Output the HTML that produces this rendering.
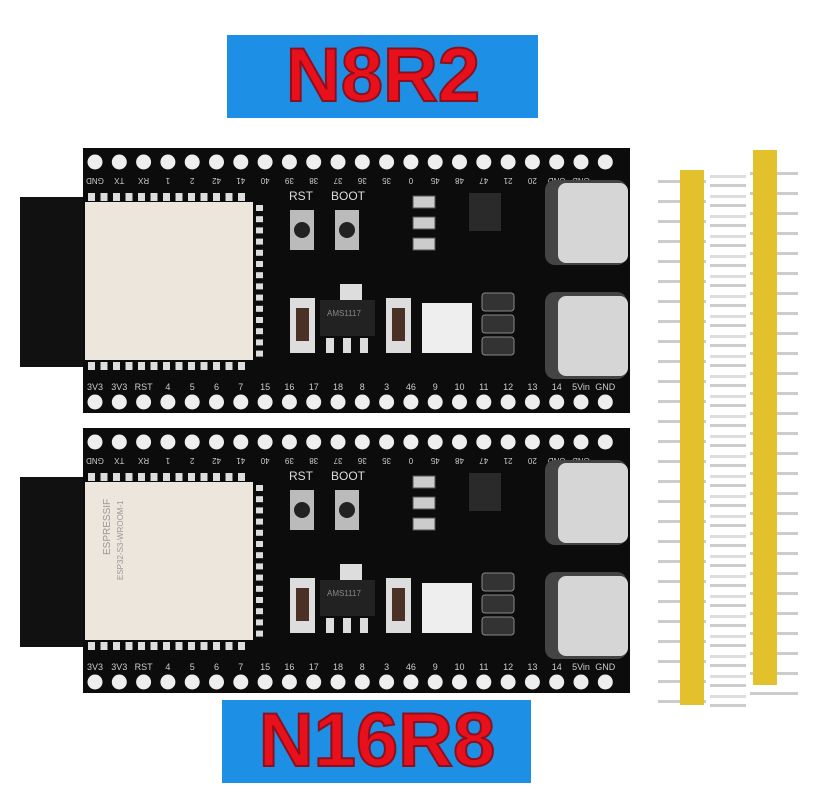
<!DOCTYPE html>
<html><head><meta charset="utf-8"><style>
html,body{margin:0;padding:0;background:#fff;width:830px;height:800px;overflow:hidden}
svg{display:block}
text{font-family:"Liberation Sans",sans-serif}
</style></head><body>
<svg id="s" width="830" height="800" viewBox="0 0 830 800">
<rect width="830" height="800" fill="#fff"/>
<rect x="227" y="35" width="311" height="83" fill="#1d8fe4"/>
<text x="383" y="101" text-anchor="middle" font-size="76" font-weight="bold" fill="#e8101a" stroke="#8a1020" stroke-width="2">N8R2</text>
<rect x="222" y="700" width="309" height="83" fill="#1d8fe4"/>
<text x="377" y="766" text-anchor="middle" font-size="76" font-weight="bold" fill="#e8101a" stroke="#8a1020" stroke-width="2">N16R8</text>
<g id="pins"></g>
<g id="b1"></g>
<g id="b2" transform="translate(0,280)"></g>
</svg>
<script>
var NS="http://www.w3.org/2000/svg";
function el(p,t,a,txt){var e=document.createElementNS(NS,t);for(var k in a)e.setAttribute(k,a[k]);if(txt)e.textContent=txt;p.appendChild(e);return e;}
var topL=["GND","TX","RX","1","2","42","41","40","39","38","37","36","35","0","45","48","47","21","20","GND","GND",""];
var botL=["3V3","3V3","RST","4","5","6","7","15","16","17","18","8","3","46","9","10","11","12","13","14","5Vin","GND"];
function board(g,second){
 el(g,"rect",{x:20,y:197,width:68,height:170,fill:"#111"});
 el(g,"rect",{x:83,y:148,width:547,height:265,fill:"#0c0c0c"});
 for(var i=0;i<22;i++){var x=95+i*24.3;
  el(g,"circle",{cx:x,cy:162,r:7.5,fill:"#eee"});
  el(g,"circle",{cx:x,cy:402,r:7.5,fill:"#eee"});
  if(topL[i])el(g,"text",{x:x,y:184,"font-size":8,fill:"#ccc","text-anchor":"middle",transform:"rotate(180 "+x+" 181)"},topL[i]);
  el(g,"text",{x:x,y:390,"font-size":9,fill:"#ccc","text-anchor":"middle"},botL[i]);
 }
 for(var i=0;i<13;i++){el(g,"rect",{x:88+i*12.5,y:193,width:7,height:8,fill:"#ddd"});el(g,"rect",{x:88+i*12.5,y:362,width:7,height:8,fill:"#ddd"});}
 for(var i=0;i<14;i++){el(g,"rect",{x:256,y:205+i*11.2,width:7,height:6,fill:"#ddd"});}
 el(g,"rect",{x:85,y:202,width:168,height:158,fill:"#ece6dc"});
 if(second){el(g,"text",{x:110,y:275,"font-size":10,fill:"#999",transform:"rotate(-90 110 275)"},"ESPRESSIF");
  el(g,"text",{x:123,y:300,"font-size":8,fill:"#999",transform:"rotate(-90 123 300)"},"ESP32-S3-WROOM-1");}
 el(g,"text",{x:289,y:200,"font-size":12,fill:"#ddd"},"RST");
 el(g,"text",{x:331,y:200,"font-size":12,fill:"#ddd"},"BOOT");
 [[290],[335]].forEach(function(p){el(g,"rect",{x:p[0],y:210,width:24,height:40,fill:"#bbb"});el(g,"circle",{cx:p[0]+12,cy:230,r:8,fill:"#222"});});
 for(var i=0;i<3;i++)el(g,"rect",{x:413,y:196+i*21,width:22,height:12,fill:"#ccc",stroke:"#555"});
 el(g,"rect",{x:469,y:193,width:32,height:38,fill:"#2a2a2a"});
 el(g,"rect",{x:340,y:284,width:22,height:16,fill:"#ddd"});
 el(g,"rect",{x:320,y:300,width:55,height:36,fill:"#222"});
 el(g,"text",{x:327,y:316,"font-size":8,fill:"#888"},"AMS1117");
 el(g,"rect",{x:290,y:298,width:25,height:55,fill:"#ddd"});el(g,"rect",{x:296,y:308,width:13,height:33,fill:"#4a3025"});
 el(g,"rect",{x:386,y:298,width:25,height:55,fill:"#ddd"});el(g,"rect",{x:392,y:308,width:13,height:33,fill:"#4a3025"});
 for(var i=0;i<3;i++)el(g,"rect",{x:326+i*17,y:338,width:8,height:15,fill:"#ddd"});
 el(g,"rect",{x:422,y:303,width:50,height:50,fill:"#eee"});
 for(var i=0;i<3;i++)el(g,"rect",{x:482,y:293+i*22,width:32,height:18,rx:3,fill:"#333",stroke:"#888"});
 el(g,"rect",{x:545,y:180,width:82,height:85,rx:10,fill:"#444"});
 el(g,"rect",{x:558,y:183,width:70,height:80,rx:8,fill:"#d6d6d6"});
 el(g,"rect",{x:545,y:292,width:82,height:87,rx:10,fill:"#444"});
 el(g,"rect",{x:558,y:296,width:70,height:80,rx:8,fill:"#d6d6d6"});
}
board(document.getElementById("b1"),false);
board(document.getElementById("b2"),true);
var P=document.getElementById("pins");
for(var i=0;i<27;i++){var y=180+i*20;
 el(P,"rect",{x:658,y:y,width:48,height:3,fill:"#ccc"});
 el(P,"rect",{x:710,y:y-5,width:36,height:3,fill:"#ddd"});
 el(P,"rect",{x:710,y:y+4,width:36,height:3,fill:"#ccc"});
 el(P,"rect",{x:750,y:y-8,width:48,height:3,fill:"#ccc"});}
el(P,"rect",{x:680,y:170,width:24,height:535,fill:"#e3c12d"});
el(P,"rect",{x:753,y:150,width:24,height:535,fill:"#e3c12d"});
</script>
</body></html>
